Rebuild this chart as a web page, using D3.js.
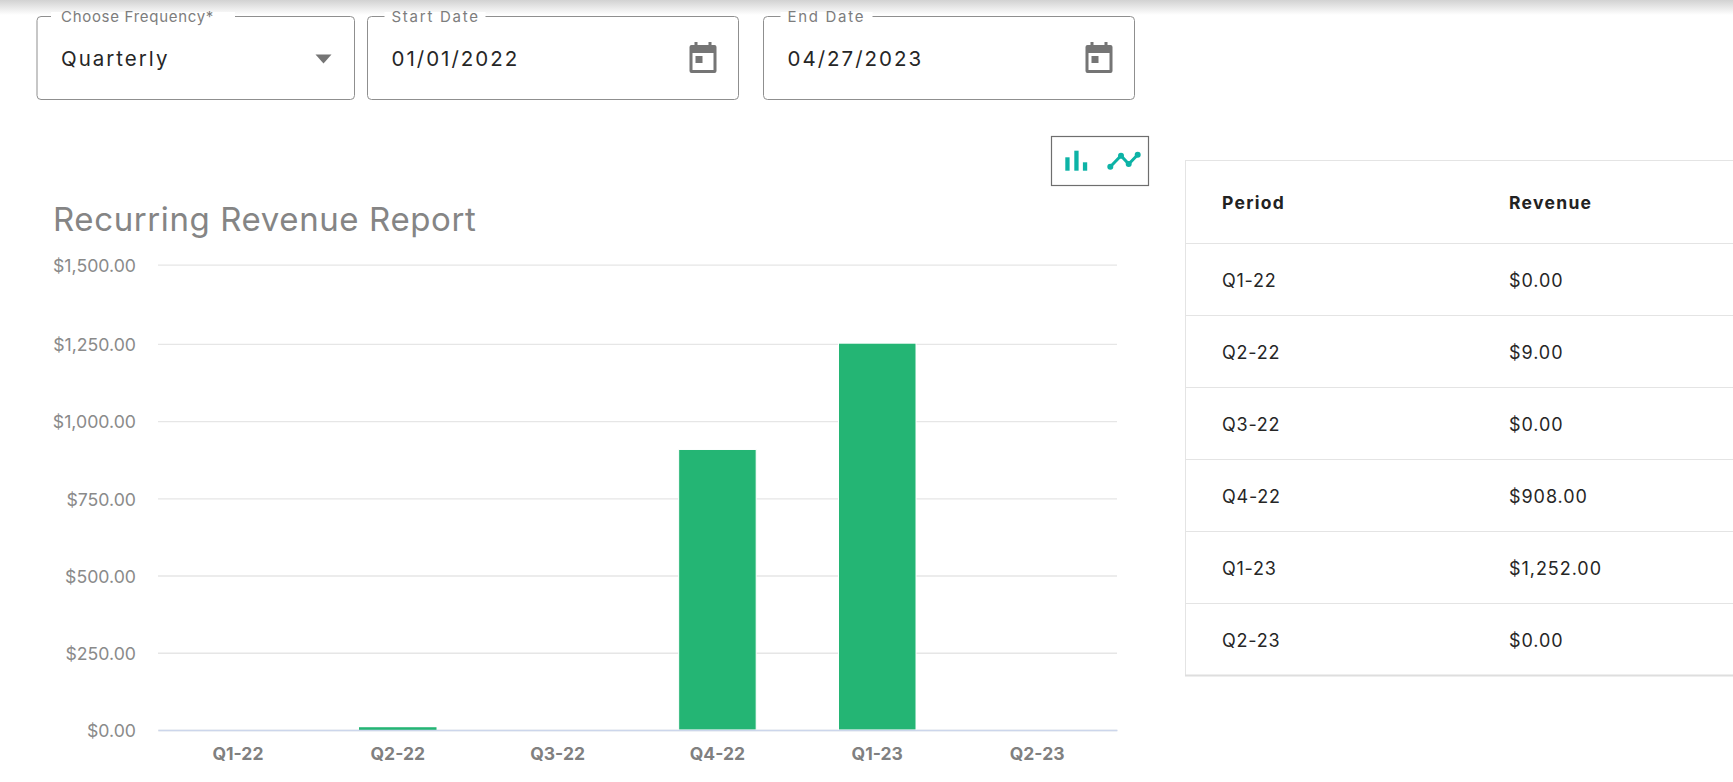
<!DOCTYPE html>
<html>
<head>
<meta charset="utf-8">
<script src="https://cdn.jsdelivr.net/npm/d3@7"></script>
<style>
  html, body { margin: 0; padding: 0; background: #fff; overflow: hidden; }
  svg { display: block; }
  text { font-family: "Inter", "Noto Sans", sans-serif; }
</style>
</head>
<body>
<div id="app"></div>
<script>
const periods = ["Q1-22", "Q2-22", "Q3-22", "Q4-22", "Q1-23", "Q2-23"];
const revenue = [0, 9, 0, 908, 1252, 0];
const yTicks = [0, 250, 500, 750, 1000, 1250, 1500];
const filterLabels = ["Choose Frequency*", "Start Date", "End Date"];
const filterValues = ["Quarterly", "01/01/2022", "04/27/2023"];
const tableHeaders = ["Period", "Revenue"];

const money = d3.format("$,.2f");
const svg = d3.select("#app").append("svg").attr("width", 1733).attr("height", 782);

// Soft shadow cast by the app bar along the top edge
const defs = svg.append("defs");
const shade = defs.append("linearGradient").attr("id", "topShade").attr("x1", 0).attr("x2", 0).attr("y1", 0).attr("y2", 1);
shade.append("stop").attr("offset", 0).attr("stop-color", "#d2d2d2");
shade.append("stop").attr("offset", 1).attr("stop-color", "#ffffff");
svg.append("rect").attr("width", 1733).attr("height", 15).attr("fill", "url(#topShade)");

// Filter fields with outlined, notched boxes
const fieldLayout = [
  { x0: 37, x1: 354.5, notch: 14, gap: 184, spacing: 0.7, icon: "caret" },
  { x0: 367.5, x1: 738.5, notch: 17, gap: 101, spacing: 1.75, icon: "calendar" },
  { x0: 763.5, x1: 1134.5, notch: 17, gap: 92, spacing: 1.7, icon: "calendar" }
];
const fields = svg.append("g").selectAll("g").data(fieldLayout).join("g");
fields.each(function (f, i) {
  const g = d3.select(this);
  g.append("rect").attr("x", f.x0).attr("y", 16.5).attr("width", f.x1 - f.x0).attr("height", 83)
    .attr("rx", 4).attr("fill", "none").attr("stroke", "#8f8f8f");
  g.append("rect").attr("x", f.x0 + f.notch).attr("y", 12).attr("width", f.gap).attr("height", 9).attr("fill", "#fff");
  g.append("text").attr("x", f.x0 + 24).attr("y", 22).attr("font-size", 15).attr("letter-spacing", f.spacing)
    .attr("fill", "#7d7d7d").text(filterLabels[i]);
  g.append("text").attr("x", f.x0 + 24).attr("y", 66).attr("font-size", 20.5).attr("letter-spacing", 2)
    .attr("fill", "#262626").text(filterValues[i]);
  if (f.icon === "caret") {
    g.append("path").attr("transform", `translate(${f.x1 - 31},59)`).attr("d", "M-8,-4.5H8L0,4.5Z").attr("fill", "#757575");
  } else {
    const c = g.append("g").attr("transform", `translate(${f.x1 - 49},41)`).attr("fill", "#757575");
    c.append("path").attr("fill-rule", "evenodd")
      .attr("d", "M2,4H5V1H8V4H19V1H22V4H25Q27,4 27,6V30Q27,32 25,32H2Q0,32 0,30V6Q0,4 2,4ZM3,12V29H24V12Z");
    c.append("rect").attr("x", 6).attr("y", 15).attr("width", 7).attr("height", 7);
  }
});

// Bar / line view toggle
const toggle = svg.append("g");
toggle.append("rect").attr("x", 1051.5).attr("y", 136.5).attr("width", 97).attr("height", 49)
  .attr("fill", "#fff").attr("stroke", "#6e6e6e").attr("stroke-width", 1.2);
const teal = "#0db3a6";
const toggleBars = toggle.append("g").attr("fill", teal);
[[1065.3, 157.3, 13.4], [1074.3, 150.7, 20], [1082.9, 162.3, 8.4]].forEach(([x, y, h]) =>
  toggleBars.append("rect").attr("x", x).attr("y", y).attr("width", 4.3).attr("height", h));
const spark = [[1110.3, 166.7], [1121, 155.7], [1128.7, 164], [1137.7, 154.7]];
toggle.append("path").attr("d", d3.line()(spark)).attr("fill", "none").attr("stroke", teal).attr("stroke-width", 3);
toggle.selectAll("circle").data(spark).join("circle")
  .attr("cx", d => d[0]).attr("cy", d => d[1]).attr("r", 3).attr("fill", teal);

// Chart title
svg.append("text").attr("x", 53).attr("y", 231).attr("font-size", 33).attr("letter-spacing", 0.6)
  .attr("fill", "#858585").text("Recurring Revenue Report");

// Scales and axes; the top band of the value axis is slightly taller than the others
const x = d3.scaleBand().domain(periods).range([158, 1117]).paddingInner(0.515).paddingOuter(0.2575);
const y = d3.scaleLinear().domain([0, 1250, 1500]).range([730, 343.8, 264.7]);

const yAxis = svg.append("g").attr("transform", "translate(158,0)")
  .call(d3.axisLeft(y).tickValues(yTicks).tickFormat(money).tickSize(-959).tickPadding(22));
yAxis.select(".domain").remove();
yAxis.selectAll("line").attr("stroke", "#e6e6e6").attr("stroke-width", 1.3);
yAxis.selectAll("text").attr("font-size", 17.7).attr("fill", "#8a8a8a").attr("dy", "0.38em");

// Bars, each with a thin white outline
svg.append("g").selectAll("rect").data(revenue).join("rect")
  .attr("x", (d, i) => x(periods[i]))
  .attr("y", d => y(d))
  .attr("width", x.bandwidth())
  .attr("height", d => y(0) - y(d))
  .attr("fill", "#24b574")
  .attr("stroke", "#fff")
  .attr("stroke-width", d => d > 100 ? 1 : 0);

const xAxis = svg.append("g").attr("transform", "translate(0,730)")
  .call(d3.axisBottom(x).tickSize(0).tickPadding(18));
xAxis.select(".domain").attr("stroke", "#ccd6eb").attr("stroke-width", 1.4);
xAxis.selectAll("text").attr("font-size", 17.5).attr("font-weight", 700).attr("fill", "#808080");

// Revenue table alongside the chart
const table = svg.append("g");
const colX = [1222, 1509];
const headerTop = 160.5, headerBottom = 243.5, rowH = 72;
const rowY = d3.scaleBand().domain(periods).range([headerBottom, headerBottom + rowH * periods.length]);
const tableLine = "#e4e4e4";
table.append("line").attr("x1", 1185).attr("x2", 1733).attr("y1", headerTop).attr("y2", headerTop).attr("stroke", tableLine);
table.append("line").attr("x1", 1185.5).attr("x2", 1185.5).attr("y1", headerTop).attr("y2", rowY.range()[1]).attr("stroke", tableLine);
table.append("line").attr("x1", 1185).attr("x2", 1733).attr("y1", headerBottom).attr("y2", headerBottom).attr("stroke", tableLine);
tableHeaders.forEach((h, i) => table.append("text").attr("x", colX[i]).attr("y", 209)
  .attr("font-size", 17.5).attr("font-weight", 700).attr("letter-spacing", 1.3).attr("fill", "#222").text(h));
const rows = table.selectAll("g.row").data(periods).join("g").attr("class", "row");
rows.append("line").attr("x1", 1185).attr("x2", 1733)
  .attr("y1", d => rowY(d) + rowH).attr("y2", d => rowY(d) + rowH)
  .attr("stroke", (d, i) => i === periods.length - 1 ? "#dedede" : tableLine)
  .attr("stroke-width", (d, i) => i === periods.length - 1 ? 2 : 1);
rows.append("text").attr("x", colX[0]).attr("y", d => rowY(d) + 43)
  .attr("font-size", 18).attr("letter-spacing", 0.75).attr("fill", "#262626").text(d => d);
rows.append("text").attr("x", colX[1]).attr("y", d => rowY(d) + 43)
  .attr("font-size", 18).attr("letter-spacing", 0.95).attr("fill", "#262626").text((d, i) => money(revenue[i]));
</script>
</body>
</html>
